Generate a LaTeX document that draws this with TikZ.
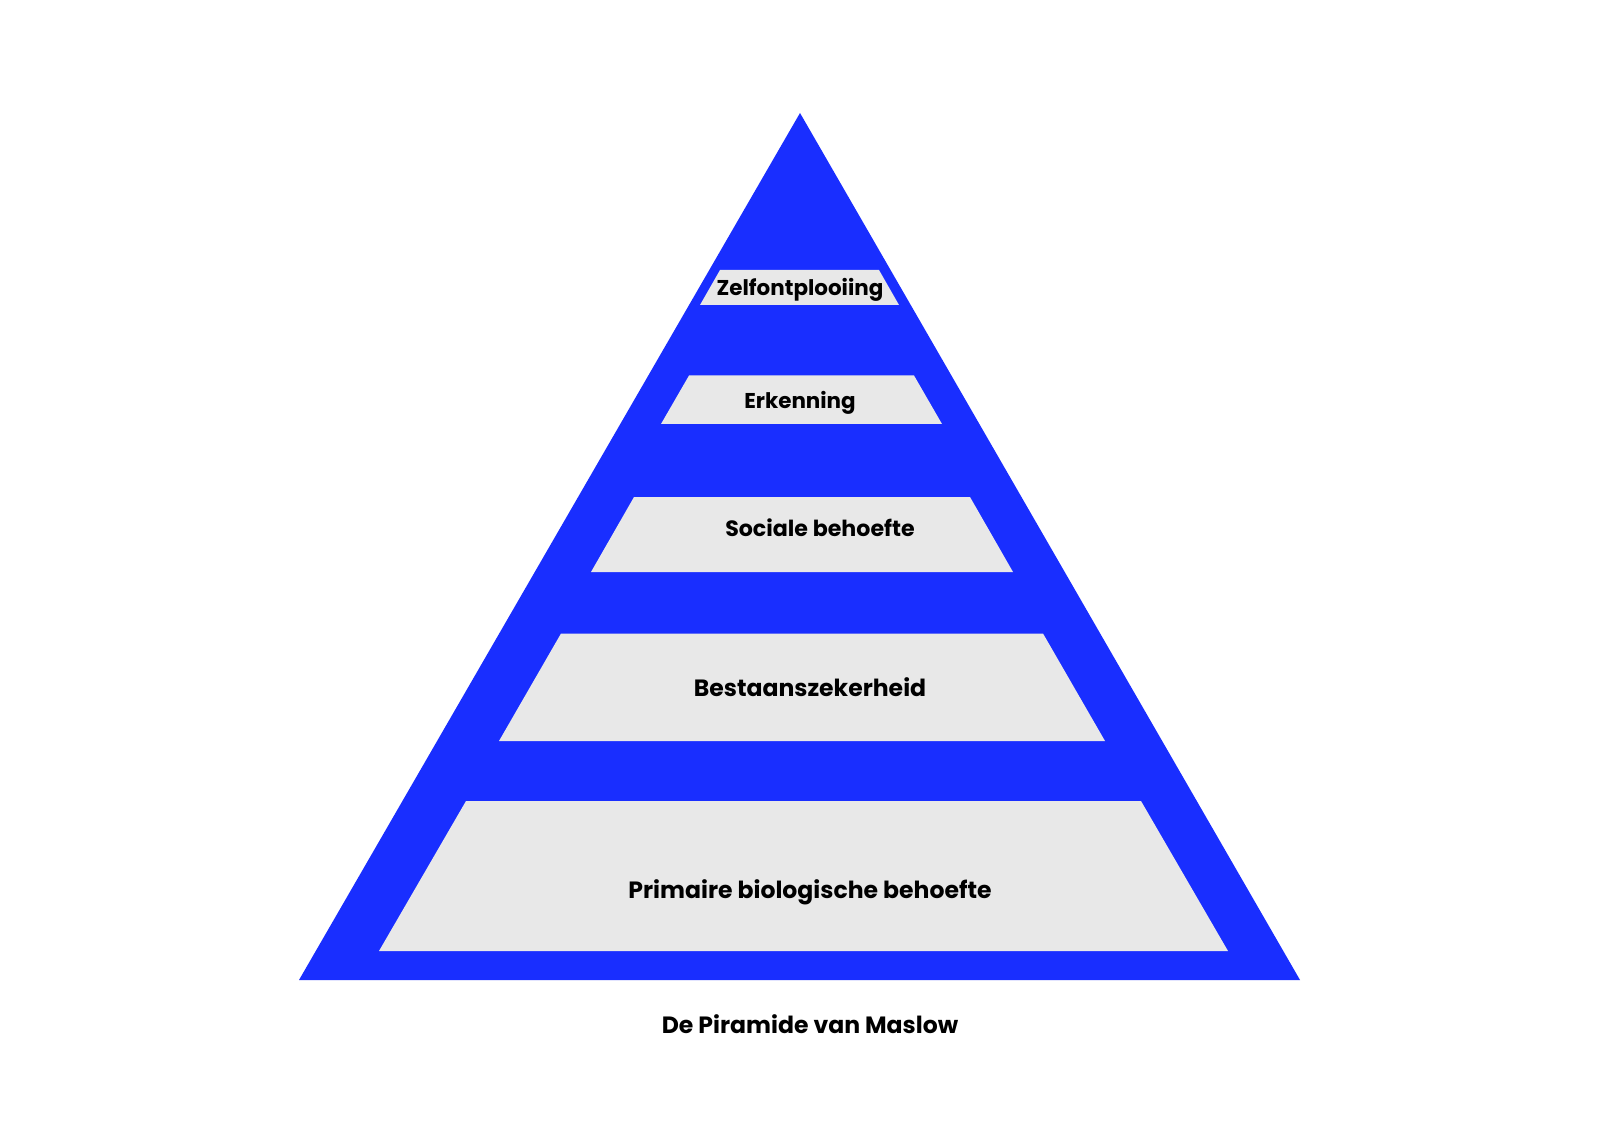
\documentclass[tikz,border=0pt]{standalone}
\usepackage{fontspec}
\setmainfont{Poppins}
\definecolor{pyramidblue}{rgb}{0.10, 0.18, 1.00}
\definecolor{bandgray}{rgb}{0.91, 0.91, 0.91}
\tikzstyle{band} = [fill=bandgray]
\tikzstyle{level} = [text=black, inner sep=0, font=\bfseries\fontsize{6.7}{8}\selectfont]
\tikzstyle{toplevel} = [level, font=\bfseries\fontsize{6.1}{7}\selectfont]

\begin{document}
\begin{tikzpicture}

    % Canvas
    \fill[white] (0,0) rectangle (16,11.31);

    % Pyramid
    \fill[pyramidblue] (2.99,1.51) -- (13.00,1.51) -- (8.00,10.18) -- cycle;

    % Level 1: primaire behoefte
    \fill[band] (3.79,1.80) -- (12.28,1.80) -- (11.41,3.30) -- (4.66,3.30) -- cycle;
    \node (primair) at (8.10,2.39) [level] {Primaire biologische behoefte};

    % Level 2: bestaanszekerheid
    \fill[band] (4.99,3.90) -- (11.05,3.90) -- (10.43,4.975) -- (5.61,4.975) -- cycle;
    \node (zekerheid) at (8.10,4.44) [level] {Bestaanszekerheid};

    % Level 3: sociaal
    \fill[band] (5.91,5.59) -- (10.13,5.59) -- (9.70,6.34) -- (6.34,6.34) -- cycle;
    \node (sociaal) at (8.20,6.03) [level, font=\bfseries\fontsize{6.3}{7}\selectfont] {Sociale behoefte};

    % Level 4: erkenning
    \fill[band] (6.61,7.07) -- (9.42,7.07) -- (9.14,7.555) -- (6.89,7.555) -- cycle;
    \node (erkenning) at (8.00,7.28) [toplevel] {Erkenning};

    % Level 5: zelfontplooiing
    \fill[band] (7.00,8.26) -- (8.99,8.26) -- (8.79,8.61) -- (7.20,8.61) -- cycle;
    \node (zelf) at (8.00,8.41) [toplevel] {Zelfontplooiing};

    % Caption
    \node (titel) at (8.10,1.07) [level] {De Piramide van Maslow};

\end{tikzpicture}
\end{document}
